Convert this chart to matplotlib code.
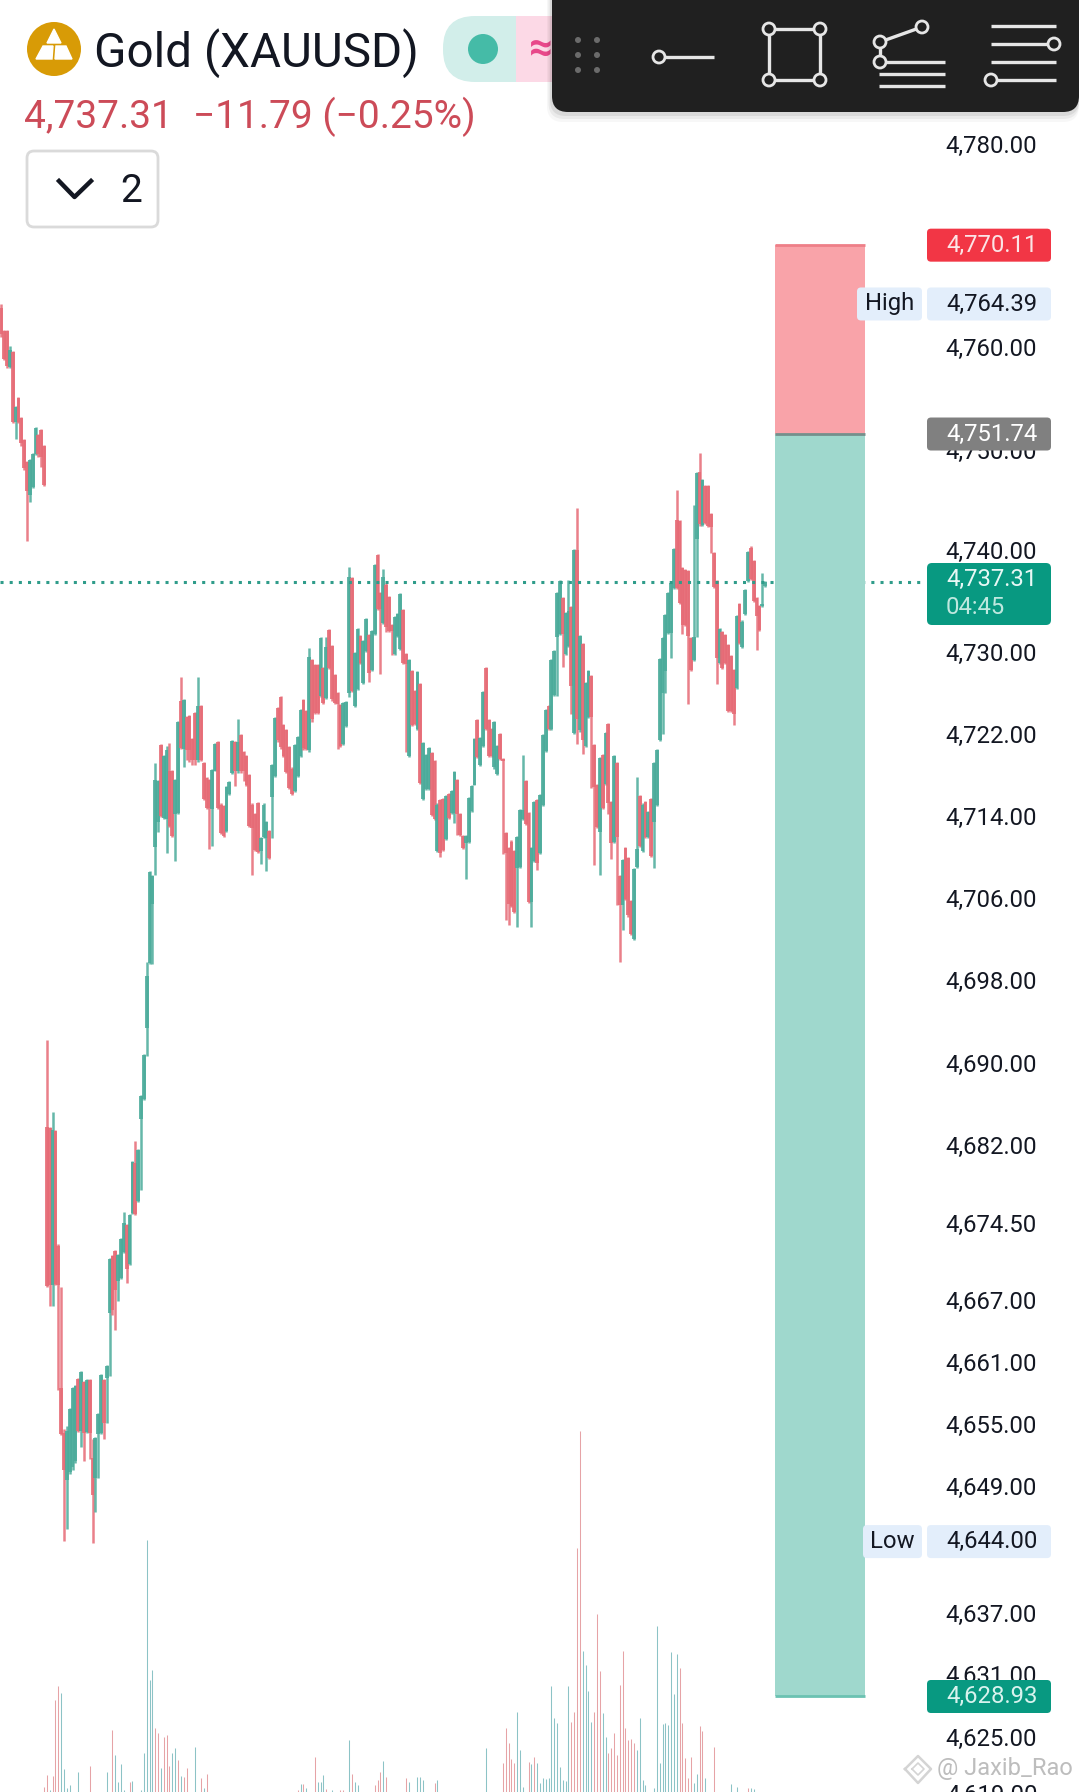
import matplotlib
matplotlib.use("Agg")
import matplotlib.pyplot as plt
from matplotlib.patches import FancyBboxPatch, Rectangle, Circle
from matplotlib.transforms import blended_transform_factory

plt.rcParams['font.family'] = ['Roboto', 'DejaVu Sans']

# candle rows: open, high, low, close
ohlc_morning = [
 (4764.0,4764.4,4761.2,4761.5),(4761.8,4761.9,4758.9,4759.0),(4761.8,4761.9,4758.2,4758.4),(4758.3,4760.3,4758.2,4759.9),
 (4759.7,4759.8,4752.8,4752.9),(4752.9,4754.5,4751.3,4754.4),(4755.2,4755.3,4752.8,4752.9),(4753.3,4753.4,4750.6,4750.9),
 (4751.2,4751.3,4748.2,4748.4),(4749.0,4749.1,4741.3,4746.2),(4745.8,4749.3,4745.1,4749.2),(4746.6,4749.9,4746.5,4749.8),
 (4749.8,4752.4,4749.7,4752.3),(4751.6,4751.7,4749.5,4749.8),(4752.1,4752.2,4748.5,4749.5),(4750.6,4750.7,4746.7,4746.8),
]
ohlc_selloff = [
 (4684.3,4692.8,4668.8,4668.9),(4684.2,4684.3,4666.9,4669.0),(4669.0,4685.8,4666.9,4684.0),(4683.9,4684.0,4669.0,4669.1),
 (4672.8,4672.9,4658.7,4669.0),(4658.9,4668.8,4654.4,4654.5),(4654.6,4655.0,4644.1,4651.0),(4650.0,4655.2,4645.2,4654.8),
 (4650.8,4657.0,4650.6,4656.9),(4651.3,4659.0,4651.0,4658.9),(4651.8,4659.2,4651.6,4659.1),(4659.8,4659.9,4654.7,4654.8),
 (4654.8,4660.6,4653.2,4660.5),(4659.5,4659.6,4651.8,4654.6),(4654.7,4659.8,4654.6,4659.7),(4659.7,4659.8,4652.0,4654.6),
 (4652.1,4654.0,4643.9,4648.5),(4650.2,4654.2,4646.9,4654.1),(4654.5,4656.5,4650.2,4656.4),(4654.6,4660.3,4654.5,4660.2),
 (4659.7,4659.8,4654.0,4655.5),(4659.9,4661.2,4655.5,4661.1),(4666.2,4671.6,4660.1,4671.5),(4671.8,4671.9,4666.0,4666.5),
 (4672.3,4672.4,4664.6,4668.5),(4669.3,4672.0,4667.4,4671.9),(4669.6,4673.5,4669.5,4673.4),(4672.2,4676.1,4672.1,4675.0),
 (4674.8,4674.9,4669.2,4670.5),(4671.0,4675.9,4670.9,4675.8),(4676.0,4681.0,4675.9,4680.9),(4680.8,4683.0,4675.8,4675.9),
 (4677.1,4682.2,4677.0,4682.1),(4685.1,4687.4,4678.2,4687.3),(4687.1,4691.4,4687.0,4691.3),
 (4694.0,4700.4,4691.2,4699.0),(4700.3,4709.2,4700.2,4709.1),(4706.0,4708.8,4700.2,4708.7),(4711.6,4719.7,4708.8,4718.1),
]
ohlc_range_a = [
 (4714.0,4718.1,4713.0,4718.0),(4721.5,4721.6,4714.5,4714.6),(4714.4,4720.5,4714.3,4720.4),(4714.3,4721.4,4711.0,4721.0),
 (4719.0,4721.7,4713.5,4713.6),(4719.0,4719.1,4712.5,4712.6),(4714.8,4718.2,4710.2,4718.1),(4714.9,4723.8,4714.8,4723.7),
 (4725.8,4728.1,4721.1,4721.2),(4721.1,4726.0,4719.3,4725.9),(4724.2,4724.3,4720.0,4721.0),(4724.3,4724.4,4719.8,4721.0),
 (4722.1,4722.2,4719.5,4720.0),(4724.6,4724.7,4719.5,4720.0),(4720.0,4728.1,4719.8,4725.3),(4725.3,4725.4,4719.9,4720.0),
 (4719.7,4719.8,4716.1,4716.2),(4718.3,4718.4,4715.3,4715.4),(4718.1,4718.2,4711.4,4715.4),(4715.3,4719.2,4711.7,4719.1),
 (4719.0,4721.7,4719.0,4721.6),(4721.8,4721.9,4715.3,4715.4),(4715.7,4715.8,4712.8,4712.9),(4715.6,4715.7,4712.5,4712.6),
 (4713.1,4717.5,4713.0,4717.4),(4716.7,4718.0,4716.6,4717.9),(4718.8,4722.0,4718.7,4721.9),(4721.8,4721.9,4717.5,4719.0),
 (4719.0,4724.0,4718.8,4721.8),(4722.5,4722.6,4718.8,4719.0),(4720.8,4720.9,4718.0,4719.0),(4720.4,4720.5,4717.5,4717.6),
 (4718.6,4718.7,4713.5,4713.6),(4715.7,4715.8,4708.8,4713.4),(4714.8,4714.9,4711.2,4711.3),(4715.8,4715.9,4711.0,4711.1),
 (4711.2,4712.5,4709.9,4712.4),(4712.5,4715.8,4712.4,4715.7),(4712.4,4714.1,4709.2,4714.0),(4713.1,4713.2,4710.4,4710.5),
 (4716.4,4719.6,4712.4,4719.5),(4718.5,4724.2,4718.4,4724.1),(4725.1,4725.2,4721.8,4722.0),(4726.2,4726.3,4721.1,4721.3),
 (4723.4,4723.5,4720.3,4720.4),(4722.9,4723.0,4718.8,4718.9),(4721.3,4721.4,4717.2,4717.3),(4719.2,4719.3,4716.6,4716.7),
 (4717.0,4721.6,4716.9,4721.5),(4718.5,4722.4,4718.4,4722.3),(4720.4,4725.0,4720.3,4724.9),
]
ohlc_range_b = [
 (4725.9,4726.0,4721.0,4721.2),(4724.8,4724.9,4721.0,4721.1),(4721.0,4730.9,4720.8,4730.0),(4729.8,4729.9,4723.7,4724.0),
 (4729.3,4729.4,4724.5,4724.6),(4729.3,4729.4,4724.5,4724.6),(4726.3,4732.0,4726.2,4731.9),(4729.0,4729.1,4725.5,4725.6),
 (4726.1,4732.0,4726.0,4731.0),(4732.7,4732.8,4728.9,4729.0),(4731.1,4731.2,4725.8,4726.0),(4728.3,4728.4,4725.5,4725.6),
 (4726.5,4726.6,4721.1,4725.5),(4725.4,4725.5,4721.3,4721.4),(4721.6,4725.7,4721.5,4725.6),(4723.3,4725.8,4723.2,4725.7),
 (4726.5,4738.8,4726.2,4737.8),(4737.7,4737.8,4726.6,4726.7),(4725.3,4730.5,4725.2,4730.4),(4726.9,4732.9,4726.8,4732.8),
 (4732.1,4732.2,4729.4,4729.5),(4727.5,4731.7,4727.4,4731.6),(4730.6,4733.8,4730.5,4733.7),(4732.2,4732.3,4727.6,4728.5),
 (4728.8,4732.7,4728.7,4732.6),(4732.3,4739.1,4732.2,4739.0),(4740.0,4740.1,4734.6,4734.7),(4736.3,4736.4,4728.4,4734.7),
 (4733.4,4738.6,4733.3,4737.8),(4737.1,4737.2,4732.5,4733.0),(4735.9,4736.0,4732.5,4732.6),(4733.2,4733.3,4730.2,4732.6),
 (4730.3,4734.0,4730.2,4733.9),(4732.1,4734.3,4732.0,4734.2),(4730.8,4736.3,4730.7,4736.2),(4734.6,4734.7,4729.4,4729.5),
 (4730.3,4730.4,4720.8,4729.4),(4720.4,4729.9,4720.3,4729.8),(4728.7,4728.8,4723.3,4723.4),(4726.7,4726.8,4723.4,4723.5),
 (4723.0,4728.7,4722.9,4728.6),
]
ohlc_range_c = [
 (4727.4,4727.5,4717.7,4717.8),(4716.2,4721.8,4716.1,4721.7),(4717.2,4720.6,4717.1,4720.5),(4717.2,4721.3,4717.1,4721.2),
 (4720.7,4720.8,4714.6,4714.7),(4719.9,4720.0,4714.2,4714.3),(4711.2,4715.8,4711.1,4715.7),(4716.1,4716.2,4710.6,4711.0),
 (4716.2,4716.3,4711.2,4711.3),(4712.3,4716.6,4712.2,4716.5),(4716.7,4716.8,4714.3,4714.4),(4714.9,4717.1,4714.8,4717.0),
 (4714.9,4719.0,4713.9,4718.9),(4718.1,4718.2,4712.7,4714.8),(4714.8,4714.9,4712.6,4712.7),(4712.6,4712.7,4711.4,4711.5),
 (4712.0,4712.7,4708.5,4712.6),(4712.1,4716.4,4712.0,4716.3),(4715.1,4717.6,4715.0,4717.5),(4717.6,4722.2,4717.6,4722.1),
 (4723.9,4724.0,4720.2,4720.3),(4719.5,4722.3,4719.4,4722.2),(4721.4,4726.7,4721.3,4726.6),(4729.0,4729.1,4722.9,4723.0),
 (4723.9,4724.0,4720.3,4720.4),(4723.0,4723.1,4720.3,4720.4),(4719.3,4723.8,4719.2,4723.7),(4718.7,4721.5,4718.6,4721.4),
 (4722.6,4722.7,4720.0,4720.1),(4720.1,4720.2,4710.9,4719.9),(4712.9,4713.0,4704.5,4711.0),(4711.5,4711.6,4704.0,4706.0),
 (4712.1,4712.2,4705.7,4705.8),(4711.2,4711.3,4705.1,4705.2),(4709.5,4712.6,4703.8,4712.5),(4709.6,4715.3,4709.5,4715.2),
 (4714.3,4720.5,4714.2,4715.2),(4718.0,4718.1,4713.7,4713.8),(4714.9,4715.0,4706.1,4706.2),(4706.2,4711.6,4703.8,4711.5),
 (4710.2,4716.0,4710.1,4715.9),(4716.1,4716.2,4709.3,4710.0),(4711.0,4716.7,4710.9,4716.6),(4715.7,4722.6,4715.6,4722.5),
 (4720.9,4725.0,4720.8,4724.9),(4725.3,4725.4,4722.9,4723.0),(4723.0,4729.9,4722.9,4729.8),
]
ohlc_range_d = [
 (4726.4,4730.7,4726.3,4730.6),(4732.0,4736.4,4726.3,4736.3),(4732.3,4737.5,4732.2,4737.4),(4735.8,4735.9,4729.1,4732.3),
 (4730.3,4734.4,4730.2,4734.3),(4731.1,4737.5,4731.0,4734.5),(4734.9,4735.0,4724.5,4727.2),(4722.7,4740.6,4722.6,4740.5),
 (4740.5,4744.5,4721.6,4724.0),(4722.9,4732.2,4722.8,4732.1),(4731.3,4731.4,4720.6,4722.0),(4721.4,4727.6,4721.3,4727.5),
 (4724.2,4728.8,4724.1,4728.7),(4728.2,4728.3,4717.3,4724.2),(4721.5,4721.6,4709.8,4717.4),(4717.6,4717.7,4713.4,4713.5),
 (4713.0,4720.3,4708.8,4720.2),(4720.5,4720.6,4715.3,4715.4),(4717.7,4722.8,4717.6,4722.7),(4723.5,4723.6,4714.8,4715.8),
 (4715.9,4716.0,4710.4,4712.0),(4712.1,4720.5,4712.0,4720.4),(4719.7,4719.8,4705.9,4712.5),(4708.7,4708.8,4700.4,4705.9),
 (4705.9,4710.4,4703.5,4710.3),(4711.5,4711.6,4706.4,4706.5),(4710.5,4710.6,4704.8,4705.0),(4706.3,4706.4,4703.0,4703.1),
 (4702.6,4709.5,4702.5,4709.4),(4709.6,4718.4,4709.5,4711.4),(4716.5,4716.6,4711.6,4711.7),(4711.2,4715.8,4711.1,4715.7),
 (4715.9,4716.0,4712.4,4712.5),(4712.5,4715.1,4712.4,4715.0),(4716.2,4716.3,4710.6,4710.7),(4714.0,4719.8,4709.5,4719.7),
 (4715.7,4721.1,4715.6,4721.0),
]
ohlc_latest = [
 (4722.0,4730.0,4721.9,4729.9),(4726.5,4732.0,4722.6,4731.9),(4728.7,4734.2,4726.5,4734.1),(4732.4,4736.4,4732.3,4736.3),
 (4732.4,4737.3,4730.0,4737.2),(4736.8,4740.7,4736.7,4740.6),(4743.4,4746.3,4736.7,4736.8),(4743.3,4743.4,4735.2,4735.3),
 (4738.7,4738.8,4732.3,4733.2),(4738.5,4738.6,4733.1,4733.2),(4738.4,4738.5,4725.5,4732.1),(4731.9,4732.0,4728.7,4728.8),
 (4729.8,4744.8,4729.7,4732.0),(4741.5,4748.0,4732.0,4747.9),(4748.0,4749.9,4742.8,4743.0),(4742.9,4747.4,4742.8,4747.3),
 (4746.7,4746.8,4743.0,4743.1),(4746.7,4746.8,4742.7,4742.8),(4744.0,4744.1,4740.2,4742.7),(4740.2,4740.3,4736.8,4736.9),
 (4737.4,4737.5,4727.4,4730.0),(4729.5,4732.9,4729.4,4732.8),(4732.5,4732.6,4728.9,4729.0),(4732.2,4732.3,4729.4,4729.5),
 (4731.2,4731.3,4724.7,4724.8),(4730.1,4730.2,4724.7,4724.8),(4728.8,4728.9,4723.4,4724.5),(4727.0,4734.1,4726.9,4734.0),
 (4735.2,4735.3,4731.3,4731.4),(4731.0,4733.6,4730.9,4733.5),(4734.2,4736.7,4734.1,4736.6),(4737.4,4740.4,4737.3,4740.3),
 (4740.7,4740.8,4737.5,4737.6),(4739.4,4739.5,4735.4,4735.5),(4735.8,4735.9,4730.7,4734.0),(4735.0,4735.1,4732.6,4732.7),
 (4735.0,4738.2,4734.9,4735.2),(4737.0,4737.4,4736.9,4737.31),
]
# volume readings per candle number
volume_down = {15:5,16:17,18:16,19:92,20:106,31:26,39:62,45:10,54:64,55:59,57:55,58:57,59:26,62:32,64:15,65:24,70:14,72:18,
 104:2,106:8,110:35,114:3,119:2,120:2,123:18,131:7,132:12,133:20,135:15,142:14,152:9,176:29,177:64,178:49,179:33,180:29,
 185:30,187:35,200:70,201:80,202:244,203:361,208:80,209:178,210:121,213:39,214:44,215:59,216:37,217:107,218:141,219:64,
 220:52,221:53,222:49,238:124,239:69,240:34,241:14,242:35,245:66,246:61,250:45,262:4}
volume_up = {17:2,21:99,22:23,23:4,24:7,27:20,37:20,40:37,41:10,42:28,43:2,46:11,49:2,50:39,51:252,52:112,53:122,56:24,60:39,
 61:44,63:16,68:45,71:4,105:8,107:4,111:10,112:10,113:17,116:2,122:52,124:10,125:7,134:31,143:10,146:15,147:15,148:12,153:12,
 170:44,181:80,182:42,183:5,186:28,188:29,189:9,190:14,191:13,192:14,193:106,194:74,195:69,196:25,197:12,198:11,199:106,
 204:141,205:127,206:101,207:70,211:79,212:55,223:42,224:74,225:12,226:7,229:4,230:166,231:29,232:68,233:69,234:67,235:140,
 236:98,237:138,243:9,244:18,247:14,256:8,258:5,263:4,264:3}

tick_prices = [4780.0,4760.2,4750.2,4740.5,4730.5,4722.6,4714.6,4706.6,4698.6,4690.6,4682.6,4675.0,4667.5,4661.5,4655.4,4649.4,4644.0,4637.1,4631.1,4625.0]
tick_labels = ['4,780.00','4,760.00','4,750.00','4,740.00','4,730.00','4,722.00','4,714.00','4,706.00','4,698.00','4,690.00','4,682.00','4,674.50','4,667.00','4,661.00','4,655.00','4,649.00','4,644.00','4,637.00','4,631.00','4,625.00']
last_price = 4737.31
target_price = 4770.11
entry_price = 4751.74
stop_price = 4628.93
high_price = 4764.39
low_price = 4644.00

W, H = 1079, 1792
Y0 = 143.5
fig = plt.figure(figsize=(W/100, H/100), dpi=100, facecolor='white')
ax = fig.add_axes([0, 0, 1, 1], facecolor='white')
SP = 2.85
ax.set_xlim(-1.3/SP, (W-1.3)/SP)
for s in ax.spines.values():
    s.set_visible(False)
ax.set_xticks([])

candles = ohlc_morning + ohlc_selloff + ohlc_range_a + ohlc_range_b + ohlc_range_c + ohlc_range_d + ohlc_latest
UP, DOWN = '#4AAB9A', '#E66A75'
for i, (o, h, l, c) in enumerate(candles):
    col = UP if c >= o else DOWN
    ax.vlines(i, l, h, color=col, lw=1.8, alpha=0.85, zorder=3)
    ax.bar(i, abs(c-o), bottom=min(o, c), width=1.32, color=col, alpha=0.85, lw=0, zorder=3)

# volumes on their own scale, in the same candle positions
vx = ax.twinx()
vx.set_ylim(0, H)
vx.set_yticks([])
for s in vx.spines.values():
    s.set_visible(False)
vx.vlines(list(volume_up), 0, list(volume_up.values()), color='#8CC3C6', lw=0.75, zorder=2)
vx.vlines(list(volume_down), 0, list(volume_down.values()), color='#E6A3A6', lw=0.75, zorder=2)

# price scale: labels sit inside the right margin (set after twinx, which moves ticks)
ax.yaxis.tick_right()
ax.set_yticks(tick_prices, tick_labels)
ax.tick_params(axis='y', length=0, pad=-96, labelsize=17.2, labelcolor='#131722', labelright=True, labelleft=False)
for t in ax.get_yticklabels():
    t.set_ha('left')
ax.set_ylim(4780-(H-Y0)/10.28, 4780+Y0/10.28)

ui = fig.add_axes([0, 0, 1, 1], facecolor='none')
ui.set_xlim(0, W)
ui.set_ylim(H, 0)
ui.axis('off')
tr = blended_transform_factory(ui.transData, ax.transData)

def rbox(x0, y0, x1, y1, col, r=6, ec='none', lw=0, z=5, alpha=None):
    p = FancyBboxPatch((x0+r, y0+r), x1-x0-2*r, y1-y0-2*r, boxstyle=f'round,pad={r},rounding_size={r}',
                       fc=col, ec=ec, lw=lw, zorder=z, alpha=alpha)
    ui.add_patch(p)
    return p

# last price line
ui.plot([0, 921], [last_price]*2, transform=tr, color='#2F9C8A', lw=2.2, dashes=(1.0, 2.0), zorder=2.5)

# long position box on the price scale
ui.add_patch(Rectangle((775, entry_price), 90, target_price-entry_price, transform=tr, fc='#F9A3A9', ec='none', zorder=3))
ui.add_patch(Rectangle((775, stop_price), 90, entry_price-stop_price, transform=tr, fc='#9FD8CD', ec='none', zorder=3))
ui.plot([775, 865], [target_price]*2, transform=tr, color='#EE7F88', lw=2, zorder=4, solid_capstyle='butt')
ui.plot([775, 865], [entry_price]*2, transform=tr, color='#74908C', lw=2, zorder=4, solid_capstyle='butt')
ui.plot([775, 865], [stop_price]*2, transform=tr, color='#6BC2B2', lw=2, zorder=4, solid_capstyle='butt')

# price badges
def py(p):
    return Y0 + (4780 - p)*10.28
FS = 17.2
for p, lab, col, tc in [(target_price, '4,770.11', '#F23645', '#FBE4E6'), (entry_price, '4,751.74', '#808080', '#FFFFFF'),
                        (stop_price, '4,628.93', '#089981', '#D8F3EE')]:
    y = py(p)
    rbox(927, y-16.5, 1051, y+16.5, col, r=4)
    ui.text(946, y, lab, color=tc, fontsize=FS, va='center', ha='left', zorder=7)
for p, lab, tag, x0 in [(high_price, '4,764.39', 'High', 857), (low_price, '4,644.00', 'Low', 863)]:
    y = py(p)
    rbox(927, y-16.5, 1051, y+16.5, '#E3EEFB', r=4)
    rbox(x0, y-16.5, 922, y+16.5, '#E3EEFB', r=4)
    ui.text(946, y, lab, color='#131722', fontsize=FS, va='center', ha='left', zorder=7)
    ui.text((x0+922)/2, y, tag, color='#131722', fontsize=FS, va='center', ha='center', zorder=7)
rbox(927, 563, 1051, 625, '#089981', r=5)
ui.text(946, 579, '4,737.31', color='#E8F8F5', fontsize=FS, va='center', ha='left', zorder=7)
ui.text(946, 607, '04:45', color='#BFE8DF', fontsize=FS, va='center', ha='left', zorder=7)
# lowest scale label, cut by the frame edge
ui.text(946, py(4619.3), '4,619.00', color='#131722', fontsize=FS, va='center', ha='left', zorder=2)

# header
ui.add_patch(Circle((54, 49), 27, fc='#D89B06', ec='none', zorder=6))
ui.fill([54, 47, 61], [29, 43, 43], color='white', zorder=7)
ui.fill([43, 36, 52, 53], [46, 59, 59, 46], color='white', zorder=7)
ui.fill([56, 55, 72, 66], [46, 59, 59, 46], color='white', zorder=7)
ui.text(94, 53, 'Gold (XAUUSD)', fontsize=34.3, color='#131722', va='center', ha='left', zorder=7)
ui.text(24, 117, '4,737.31', fontsize=28, color='#CC4B58', va='center', ha='left', zorder=7)
ui.text(193, 117, '\u221211.79 (\u22120.25%)', fontsize=28, color='#CC4B58', va='center', ha='left', zorder=7)
rbox(27, 151, 158, 227, 'white', r=7, ec='#DADADA', lw=2)
ui.plot([59, 74.5, 91], [181, 197, 181], color='#131722', lw=3.2, zorder=7)
ui.text(131, 191, '2', fontsize=28, color='#131722', va='center', ha='center', zorder=7)
# status pill
rbox(443, 16, 560, 82, '#D2EEEA', r=32, z=4)
ui.add_patch(Rectangle((516, 16), 50, 66, fc='#FCD9E6', ec='none', zorder=4))
ui.add_patch(Circle((483, 49), 15, fc='#45BBA7', ec='none', zorder=5))
ui.text(541, 49, '\u2248', fontsize=30, color='#E8488A', fontweight='bold', va='center', ha='center', zorder=5)

# drawing toolbar
for k, a in [(10, 0.03), (7, 0.05), (4, 0.07)]:
    rbox(552-k/2, -20, W, 112+k, 'black', r=16, z=8, alpha=a)
rbox(552, -20, W, 112, '#202020', r=16, z=9)
GR, LC = '#6B6B6B', '#E6E6E6'
for gx in (578, 597):
    for gy in (40, 55, 70):
        ui.add_patch(Circle((gx, gy), 3, fc=GR, ec='none', zorder=10))
def seg(x0, y0, x1, y1):
    ui.plot([x0, x1], [y0, y1], color=LC, lw=2.4, zorder=10, solid_capstyle='butt')
def node(x, y):
    ui.add_patch(Circle((x, y), 6, fc='#202020', ec=LC, lw=2, zorder=11))
seg(659, 57, 714, 57); node(659, 57)
seg(769, 29, 820, 29); seg(769, 80, 820, 80); seg(769, 29, 769, 80); seg(820, 29, 820, 80)
for nx, ny in [(769, 29), (820, 29), (769, 80), (820, 80)]:
    node(nx, ny)
seg(880, 42, 922, 27); seg(880, 42, 880, 62); seg(880, 62, 945, 62); seg(879, 74, 945, 74); seg(879, 86, 945, 86)
for nx, ny in [(922, 27), (880, 42), (880, 62)]:
    node(nx, ny)
seg(991, 26, 1056, 26); seg(991, 44, 1054, 44); seg(991, 62, 1056, 62); seg(991, 80, 1056, 80)
node(1054, 44); node(991, 80)

# watermark
ui.plot([905, 918, 931, 918, 905], [1769, 1756, 1769, 1783, 1769], color='#D4D4D4', lw=1.8, zorder=6)
ui.plot([912, 918, 924, 918, 912], [1769, 1763, 1769, 1775, 1769], color='#D4D4D4', lw=1.2, zorder=6)
ui.text(937, 1769, '@ Jaxib_Rao', fontsize=17, color='#BDBDBD', va='center', ha='left', zorder=6,
        bbox=dict(fc='white', ec='none', pad=1, alpha=0.7))

fig.savefig('out.png', dpi=100, facecolor='white')
